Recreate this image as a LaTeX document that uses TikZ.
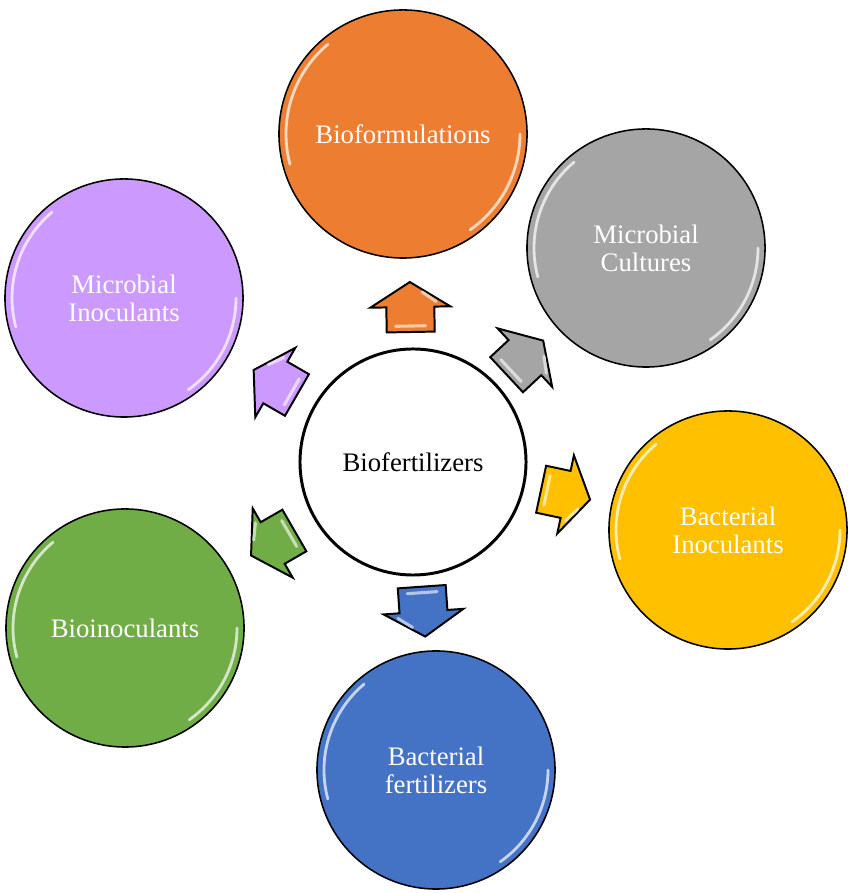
\documentclass[tikz,border=0pt]{standalone}
\usepackage{fontspec}
\setmainfont{Liberation Serif}

\definecolor{formorange}{HTML}{ED7D31}
\definecolor{cultgray}{HTML}{A5A5A5}
\definecolor{bactyellow}{HTML}{FFC000}
\definecolor{fertblue}{HTML}{4472C4}
\definecolor{bioingreen}{HTML}{70AD47}
\definecolor{inocpurple}{HTML}{CC99FF}

% block arrow out of the centre circle: angle, distance, colour
\newcommand{\bioarrow}[3]{%
  \begin{scope}[shift={(bio.center)}, rotate=#1, shift={(#2,0)}]
    \draw [arrowbox, fill=#3] (-25,-24) -- (0,-24) -- (0,-40) -- (25,0)
      -- (0,40) -- (0,24) -- (-25,24) -- cycle;
    \draw [bevel] (-19,-15) -- (-19,15);
    \draw [bevel] (5,-26) -- (15,-12);
  \end{scope}}

% glossy rim on a circle: node, radius
\newcommand{\shine}[2]{%
  \begin{scope}[shift={(#1.center)}]
    \draw [glint] (130:#2) arc[start angle=130, end angle=195, radius=#2];
    \draw [glint] (-55:#2) arc[start angle=-55, end angle=0, radius=#2];
  \end{scope}}

\begin{document}
\begin{tikzpicture}[x=0.025cm, y=0.025cm]
\tikzstyle{every node}+=[inner sep=0pt]
\tikzstyle{outer}=[circle, draw=black, line width=1.1pt, minimum size=5.95cm,
  text=white, align=center, font=\fontsize{19}{20}\selectfont]
\tikzstyle{arrowbox}=[draw=black, line width=1.4pt, line join=miter]
\tikzstyle{glint}=[white, line width=2pt, opacity=0.7, line cap=round]
\tikzstyle{bevel}=[white, line width=2.2pt, opacity=0.6, line cap=round]
\fill [white] (0,0) rectangle (851,893);
\useasboundingbox (0,0) rectangle (851,893);

% centre
\node [circle, draw=black, line width=2.1pt, fill=white, minimum size=5.65cm,
  font=\fontsize{19}{20}\selectfont] (bio) at (413,431) {Biofertilizers};

% ring of outer circles
\node [outer, fill=formorange, minimum size=6.2cm] (form) at (403,759) {Bioformulations};
\node [outer, fill=cultgray] (cult) at (646,645) {Microbial\\Cultures};
\node [outer, fill=bactyellow] (bact) at (728,363) {Bacterial\\Inoculants};
\node [outer, fill=fertblue] (fert) at (436,123) {Bacterial\\fertilizers};
\node [outer, fill=bioingreen] (bioin) at (125,265) {Bioinoculants};
\node [outer, fill=inocpurple] (inoc) at (124,595) {Microbial\\Inoculants};

\shine{form}{117}
\shine{cult}{112}
\shine{bact}{112}
\shine{fert}{112}
\shine{bioin}{112}
\shine{inoc}{112}

% arrows
\bioarrow{91}{155}{formorange}
\bioarrow{43}{153}{cultgray}
\bioarrow{-12}{156}{bactyellow}
\bioarrow{-86}{150}{fertblue}
\bioarrow{210}{162}{bioingreen}
\bioarrow{150}{159}{inocpurple}
\end{tikzpicture}
\end{document}
